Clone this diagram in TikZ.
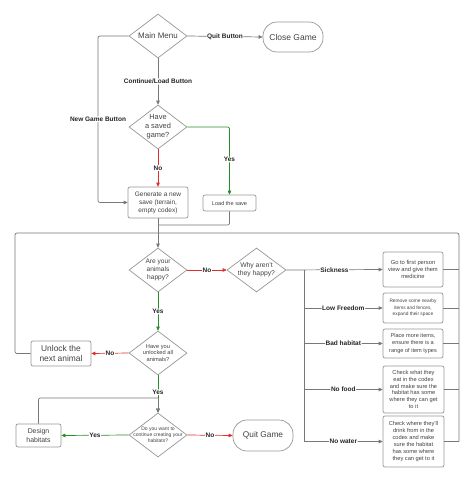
\documentclass[tikz,border=0pt]{standalone}
\usepackage{fontspec}
\setmainfont{Liberation Sans}
\usetikzlibrary{shapes.geometric,arrows.meta,calc}
\definecolor{ln}{RGB}{120,120,120}
\definecolor{bd}{RGB}{150,150,150}
\definecolor{tx}{RGB}{65,65,65}
\definecolor{rd}{RGB}{225,45,45}
\definecolor{gn}{RGB}{40,140,40}
\newcommand{\fs}[2]{\fontsize{#1}{#2}\selectfont}
\begin{document}
\begin{tikzpicture}[x=1pt,y=-1pt,
 dia/.style={diamond,draw=bd,line width=0.7pt,minimum width=58pt,minimum height=44pt,inner sep=0pt},
 box/.style={rectangle,rounded corners=2pt,draw=bd,line width=0.7pt,align=center,text=tx,inner sep=0pt},
 term/.style={box,rounded corners=14pt},
 dl/.style={text=tx,align=center},
 lab/.style={fill=white,inner sep=0.6pt,font=\bfseries\fs{6.5}{7},text=black!85},
 conn/.style={draw=ln,line width=0.7pt,rounded corners=2pt},
 arr/.style={conn,-{Triangle[length=4pt,width=3.6pt]}},
 rarr/.style={arr,draw=rd},
 garr/.style={arr,draw=gn},
]
\useasboundingbox (0,0) rectangle (474,482);
% nodes
\node[dia,label={[dl,font=\fs{8}{9}]center:Main Menu}] (mm) at (158,36) {};
\node[term,minimum width=60pt,minimum height=30pt,font=\fs{8.5}{10}] (close) at (293,37) {Close Game};
\node[dia,label={[dl,font=\fs{7.4}{9}]center:Have\\a saved\\game?}] (saved) at (158,127) {};
\node[box,minimum width=60pt,minimum height=31pt,font=\fs{6.5}{8}] (gen) at (158,202.5) {Generate a new\\save (terrain,\\empty codex)};
\node[box,minimum width=53pt,minimum height=16pt,font=\fs{5.6}{7}] (load) at (229.5,203) {Load the save};
\node[dia,label={[dl,font=\fs{6.6}{8}]center:Are your\\animals\\happy?}] (happy) at (158,270) {};
\node[dia,minimum width=59pt,label={[dl,font=\fs{6.8}{7.7}]center:Why aren't\\they happy?}] (why) at (256.5,270) {};
\node[box,minimum width=60pt,minimum height=35pt,font=\fs{5.8}{7}] (r1) at (413,269.5) {Go to first person\\view and give them\\medicine};
\node[box,minimum width=60pt,minimum height=30pt,font=\fs{4.8}{6.3}] (r2) at (413,308) {Remove some nearby\\items and fences,\\expand their space};
\node[box,minimum width=60pt,minimum height=29pt,font=\fs{5.6}{7.1}] (r3) at (413,343.5) {Place more items,\\ensure there is a\\range of item types};
\node[box,minimum width=61pt,minimum height=47pt,font=\fs{5.7}{6.8}] (r4) at (413.5,389.5) {Check what they\\eat in the codex\\and make sure the\\habitat has some\\where they can get\\to it};
\node[box,minimum width=61pt,minimum height=51pt,font=\fs{5.7}{7}] (r5) at (413.5,441.5) {Check where they'll\\drink from in the\\codex and make\\sure the habitat\\has some where\\they can get to it};
\node[dia,label={[dl,font=\fs{5.7}{6.7}]center:Have you\\unlocked all\\animals?}] (unl) at (158,353) {};
\node[box,minimum width=60pt,minimum height=25pt,font=\fs{8.4}{10}] (unlock) at (61,353.5) {Unlock the\\next animal};
\node[dia,label={[dl,font=\fs{5}{6}]center:Do you want to\\continue creating your\\habitats?}] (doy) at (158,435) {};
\node[box,minimum width=45pt,minimum height=23pt,font=\fs{6.9}{8.3}] (design) at (38.5,435.5) {Design\\habitats};
\node[term,minimum width=60pt,minimum height=31pt,font=\fs{8.3}{10}] (quit) at (263,435.5) {Quit Game};
% corner coordinates
\coordinate (ngc) at (98,36);
\coordinate (ldm) at (158,225);
\coordinate (lpL) at (15,233);
\coordinate (lpR) at (459,233);
\coordinate (lpRb) at (459,441.5);
\coordinate (wx) at (304,270);
\coordinate (wxb) at (304,441.5);
\coordinate (dsm) at (158,398);
% loop lines
\draw[conn] (unlock.west) -| (lpL) -- (lpR) -- (lpRb);
\foreach \r in {r1,r2,r3,r4,r5} \draw[conn] (\r.east) -- (\r.east -| lpR);
\draw[conn] (load.south) |- (ldm);
\draw[conn] (design.north) |- (dsm);
% connectors
\draw[arr] (mm.east) -- node[lab]{Quit Button} (close.west);
\draw[arr] (mm.south) -- node[lab]{Continue/Load Button} (saved.north);
\draw[arr] (mm.west) -- (ngc) -- node[lab]{New Game Button} (ngc |- gen.west) -- (gen.west);
\draw[rarr] (saved.south) -- node[lab]{No} (gen.north);
\draw[garr] (saved.east) -| node[lab,pos=0.74]{Yes} (load.north);
\draw[arr] (gen.south) -- (happy.north);
\draw[rarr] (happy.east) -- node[lab]{No} (why.west);
\draw[arr] (why.east) -- node[lab,pos=0.5]{Sickness} (r1.west);
\draw[conn] (wx) -- (wxb);
\draw[arr] (wx |- r2.west) -- node[lab]{Low Freedom} (r2.west);
\draw[arr] (wx |- r3.west) -- node[lab]{Bad habitat} (r3.west);
\draw[arr] (wx |- r4.west) -- node[lab]{No food} (r4.west);
\draw[arr] (wxb) -- node[lab]{No water} (r5.west);
\draw[garr] (happy.south) -- node[lab]{Yes} (unl.north);
\draw[rarr] (unl.west) -- node[lab]{No} (unlock.east);
\draw[garr] (unl.south) -- node[lab,pos=0.45]{Yes} (doy.north);
\draw[arr] (dsm) -- (doy.north);
\draw[garr] (doy.west) -- node[lab]{Yes} (design.east);
\draw[rarr] (doy.east) -- node[lab]{No} (quit.west);
\end{tikzpicture}
\end{document}
